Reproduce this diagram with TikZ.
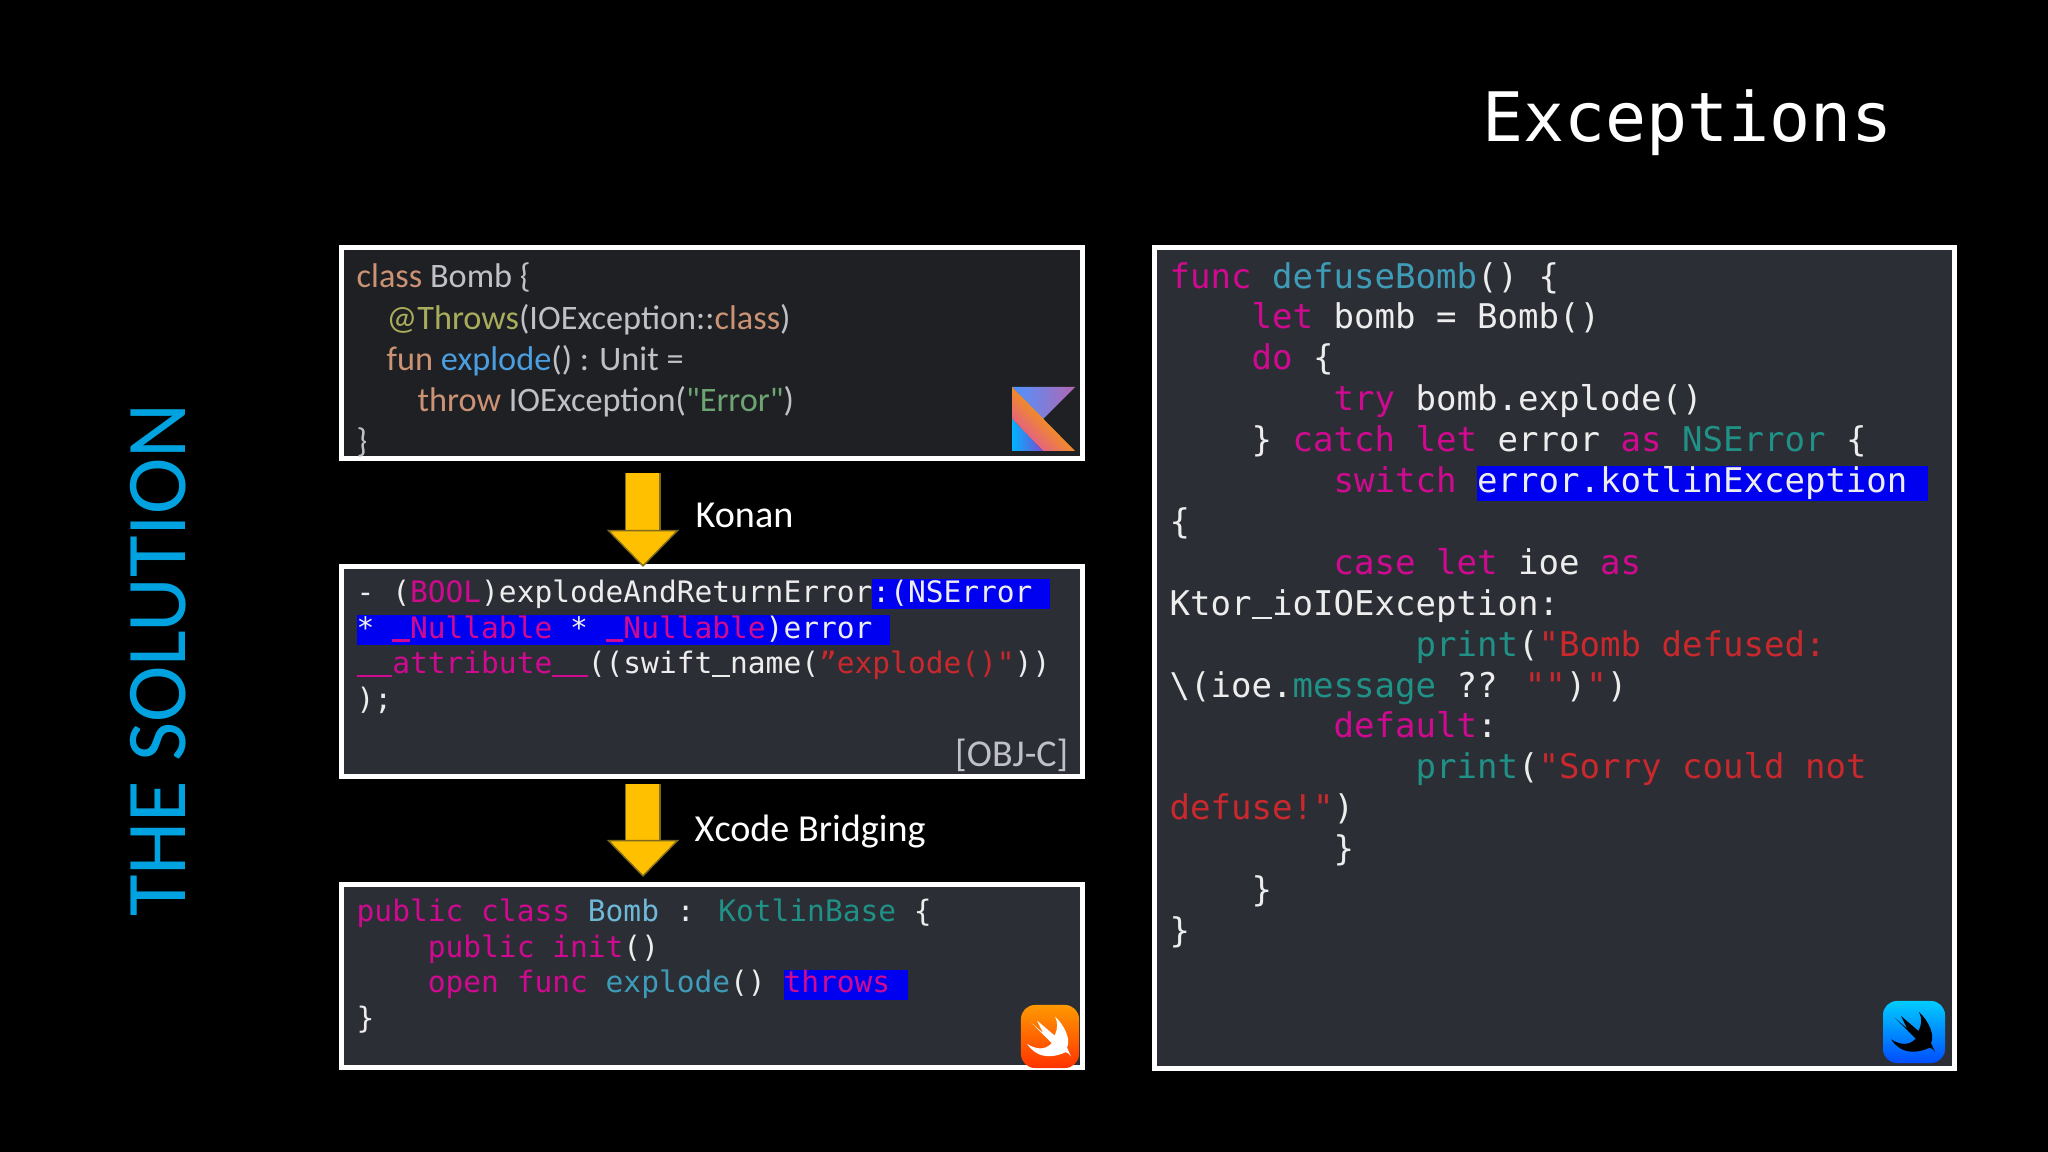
\documentclass[tikz,border=0pt]{standalone}
\usepackage{fontspec}
\setmainfont{Carlito}
\newfontfamily\monofont{DejaVu Sans Mono}
\newfontfamily\kotlinfont{Carlito}
\usetikzlibrary{calc,arrows.meta}
\definecolor{kwpink}{HTML}{D00A90}
\definecolor{typeteal}{HTML}{1F9186}
\definecolor{fnblue}{HTML}{3F9CB8}
\definecolor{strred}{HTML}{C9282D}
\definecolor{codewhite}{HTML}{EDEDED}
\definecolor{hlblue}{HTML}{0000F0}
\definecolor{panelgray}{HTML}{2C2E35}
\definecolor{kotlingray}{HTML}{1F2024}
\definecolor{ksalmon}{HTML}{CC9274}
\definecolor{kolive}{HTML}{A9AC5A}
\definecolor{kblue}{HTML}{4A9FE0}
\definecolor{kgreen}{HTML}{6CA472}
\definecolor{ktext}{HTML}{BFC1C7}
\definecolor{amber}{HTML}{FFC000}
\definecolor{amberedge}{HTML}{7F6A20}
\definecolor{solblue}{HTML}{00A3E0}
\definecolor{logopink}{HTML}{E0559F}
\definecolor{logomid}{HTML}{F08A2A}
\definecolor{logoorange}{HTML}{FF9A00}
\newcommand{\kw}[1]{\textcolor{kwpink}{#1}}
\newcommand{\ty}[1]{\textcolor{typeteal}{#1}}
\newcommand{\fn}[1]{\textcolor{fnblue}{#1}}
\newcommand{\st}[1]{\textcolor{strred}{#1}}
\newcommand{\us}{\rule[-0.12em]{0.602em}{0.08em}}
\newcommand{\hlbox}[1]{{\setlength{\fboxsep}{0pt}\colorbox{hlblue}{\rule[-0.24em]{0pt}{1.02em}#1}}}
\tikzset{
panel/.style={draw=white,line width=0.05cm,fill=panelgray,inner sep=0pt},
kotlincode/.style={anchor=north west,inner sep=0pt,align=left,text=ktext,font=\kotlinfont\fontsize{9.75}{11.72}\selectfont},
smallcode/.style={anchor=north west,inner sep=0pt,align=left,text=codewhite,font=\monofont\fontsize{8.4}{10.18}\selectfont},
bigcode/.style={anchor=north west,inner sep=0pt,align=left,text=codewhite,font=\monofont\fontsize{9.68}{11.63}\selectfont},
steplabel/.style={anchor=west,inner sep=0pt,text=white,font=\fontsize{10.85}{12}\selectfont},
flowarrow/.style={line width=0.012cm,draw=amberedge,double=amber,double distance=0.33cm,-{Triangle[length=0.37cm,width=0.72cm,line width=0.4pt,color=amberedge,fill=amber]}},
swiftbird/.pic={
\fill[#1] (5,-20) .. controls (15,-11) and (21,4) .. (17,11) .. controls (18,14) and (20,17) .. (21,20)
 .. controls (19,17) and (17,16) .. (15.7,15.7) .. controls (8,19) and (-10,26) .. (-23,7.3)
 .. controls (-14,13) and (-5,14) .. (1.7,6.7) -- (-19,-14) -- (-6.7,-3.3) -- (-13,-16) -- (4.5,-1)
 .. controls (8,-8) and (8,-14) .. (5,-20) -- cycle;}
}
\begin{document}
\begin{tikzpicture}[x=0.01cm,y=-0.01cm]
\useasboundingbox (0,0) rectangle (2048,1152);
\fill[black] (0,0) rectangle (2048,1152);
\node[anchor=west,inner sep=0pt,text=white,font=\monofont\fontsize{19.4}{22}\selectfont] (title) at (1481.5,123) {Exceptions};
\node[rotate=90,inner sep=0pt,text=solblue,font=\fontsize{24.2}{28}\selectfont] (solution) at (158,660) {THE SOLUTION};
\node[panel,fill=kotlingray,minimum width=7.41cm,minimum height=2.11cm] (kotlin) at (712,353) {};
\node[panel,minimum width=7.41cm,minimum height=2.10cm] (objc) at (712,671.5) {};
\node[panel,minimum width=7.41cm,minimum height=1.83cm] (header) at (712,976) {};
\node[panel,minimum width=8.00cm,minimum height=8.21cm] (usage) at (1554.5,658) {};
\node[kotlincode] (kotlintext) at (356,262.5) {\textcolor{ksalmon}{class} Bomb \{\\
\hspace*{0.30cm}\textcolor{kolive}{@Throws}(IOException::\textcolor{ksalmon}{class})\\
\hspace*{0.30cm}\textcolor{ksalmon}{fun} \textcolor{kblue}{explode}() : Unit =\\
\hspace*{0.61cm}\textcolor{ksalmon}{throw} IOException(\textcolor{kgreen}{"Error"})\\
\}};
\node[smallcode] (objctext) at (356,578.5) {- (\kw{BOOL})explodeAndReturnError\hlbox{:(NSError~}\\
\hlbox{* \kw{\us Nullable} * \kw{\us Nullable})error~}\\
\kw{\us\us attribute\us\us}((swift\us name(\st{”explode()"}))\\
);};
\node[anchor=east,inner sep=0pt,text=ktext,font=\fontsize{10.8}{12}\selectfont] (objclabel) at (1069,755) {[OBJ-C]};
\node[smallcode] (headertext) at (356,898) {\kw{public class} \textcolor{cyan!60!white!85!black}{Bomb} : \ty{KotlinBase} \{\\
~~~~\kw{public init}()\\
~~~~\kw{open func} \fn{explode}() \hlbox{\kw{throws}~}\\
\}};
\node[bigcode] (usagetext) at (1169,261.5) {\kw{func} \fn{defuseBomb}() \{\\
~~~~\kw{let} bomb = Bomb()\\
~~~~\kw{do} \{\\
~~~~~~~~\kw{try} bomb.explode()\\
~~~~\} \kw{catch let} error \kw{as} \ty{NSError} \{\\
~~~~~~~~\kw{switch} \hlbox{error.kotlinException~}\\
\{\\
~~~~~~~~\kw{case let} ioe \kw{as}\\
Ktor\us ioIOException:\\
~~~~~~~~~~~~\ty{print}(\st{"Bomb defused:}\\
\textbackslash(ioe.\ty{message} ?? \st{""})\st{"})\\
~~~~~~~~\kw{default}:\\
~~~~~~~~~~~~\ty{print}(\st{"Sorry could not}\\
\st{defuse!"})\\
~~~~~~~~\}\\
~~~~\}\\
\}};
%arrows between the left panels
\coordinate (konantop) at ($(kotlin.south west)!0.4075!(kotlin.south east)$);
\coordinate (bridgetop) at ($(objc.south west)!0.4075!(objc.south east)$);
\draw[flowarrow,shorten <=0.12cm,shorten >=-0.03cm] (konantop) -- (konantop |- objc.north);
\draw[flowarrow,shorten <=0.05cm,shorten >=0.05cm] (bridgetop) -- (bridgetop |- header.north);
\node[steplabel] (konan) at (695,515) {Konan};
\node[steplabel] (bridging) at (694,832) {Xcode Bridging};
%kotlin logo
\shade[left color=blue!60!cyan!70!white,right color=violet!60!white] (1012,387) -- (1075,387) -- (1043,419) -- cycle;
\shade[left color=logopink,right color=logoorange,middle color=logomid,shading angle=135] (1012,387) -- (1075,451) -- (1043,451) -- (1012,419) -- cycle;
\shade[left color=cyan!70!blue,right color=blue!50!violet!70!white] (1012,419) -- (1043,451) -- (1012,451) -- cycle;
%swift logos
\foreach \n/\x/\y/\w/\h/\t/\b/\c in {swift/1050/1036.5/0.58cm/0.63cm/orange!80!yellow/red!60!orange/white,swiftui/1914/1032/0.62cm/0.62cm/cyan!80!blue/blue!70!cyan/black} {
\node[rounded corners=0.14cm,top color=\t,bottom color=\b,minimum width=\w,minimum height=\h,inner sep=0pt] (\n) at (\x,\y) {};
\pic at (\n) {swiftbird=\c};}
\end{tikzpicture}
\end{document}
